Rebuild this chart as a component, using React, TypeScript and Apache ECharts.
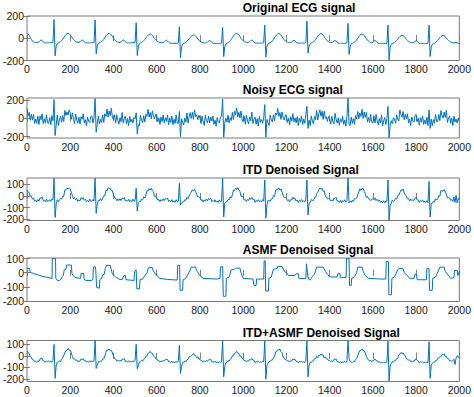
import React, { useEffect, useRef } from "react";
import * as echarts from "echarts";

// ---- data (sample index step 5, rows of 100 samples) ----
const STEP = 5;

const originalRows: number[][] = [
  [42, 38, 25, 8, -10, -25, -32, -36, -38, -40, -38, -32, -22, -15, -20, -32, -40, -42, -41, -42],
  [-40, -41, -40, -40, -36, 168, -158, -70, -48, -42, -38, -32, -22, -10, 5, 20, 32, 40, 45, 40],
  [30, 15, 0, -12, -22, -30, -34, -38, -38, -32, -22, -15, -20, -32, -40, -42, -41, -42, -40, -41],
  [-40, -40, -36, 165, -140, -70, -48, -42, -38, -32, -22, -10, 5, 20, 32, 40, 45, 40, 30, 15],
  [0, -12, -22, -30, -34, -38, -38, -32, -22, -15, -20, -32, -40, -42, -41, -42, -40, -41, -40, -40],
  [-36, 140, -155, -70, -48, -42, -38, -32, -22, -10, 3, 16, 28, 35, 39, 35, 26, 12, -2, -14],
  [-24, -31, -35, -38, -40, -40, -38, -32, -24, -18, -24, -34, -42, -45, -44, -46, -45, -46, -45, -46],
  [-42, 103, -175, -75, -52, -46, -42, -36, -27, -16, -4, 8, 18, 25, 30, 27, 20, 8, -5, -16],
  [-26, -32, -36, -40, -42, -42, -40, -34, -26, -20, -26, -36, -44, -46, -45, -47, -46, -47, -46, -47],
  [-43, 97, -165, -75, -52, -45, -40, -33, -22, -10, 5, 20, 32, 40, 44, 40, 30, 15, 0, -12],
  [-22, -30, -34, -37, -38, -36, -30, -22, -16, -22, -34, -42, -44, -43, -44, -43, -44, -43, -44, -40],
  [118, -170, -72, -50, -44, -40, -34, -24, -12, 3, 18, 30, 38, 42, 38, 28, 13, -2, -14, -24],
  [-31, -35, -38, -40, -38, -32, -24, -18, -24, -34, -42, -44, -43, -44, -43, -44, -43, -44, -40, 155],
  [-133, -70, -50, -44, -40, -34, -24, -12, 3, 18, 30, 38, 42, 38, 28, 13, -2, -14, -24, -31],
  [-35, -38, -38, -34, -26, -20, -26, -36, -44, -46, -45, -46, -45, -46, -45, -45, -41, 133, -145, -72],
  [-52, -46, -42, -36, -26, -14, 0, 15, 27, 35, 39, 35, 25, 10, -4, -16, -26, -33, -38, -40],
  [-35, -27, -21, -27, -37, -45, -48, -47, -48, -47, -48, -47, -48, -44, 118, -194, -80, -55, -48, -44],
  [-38, -30, -20, -8, 5, 15, 23, 27, 24, 15, 3, -10, -20, -28, -34, -38, -40, -40, -36, -28],
  [-22, -28, -38, -46, -48, -47, -48, -47, -48, -47, -48, -44, 118, -164, -78, -55, -48, -44, -38, -30],
  [-20, -8, 5, 15, 23, 27, 24, 15, 3, -10, -20, -28, -34, -38, -40, -42, -40, -38, -42, -46],
  [-46],
];

const noisyRows: number[][] = [
  [107, 28, 65, -22, 45, -20, 43, -56, -8, -55, 22, -67, 23, -15, 50, -57, -5, -52, 39, -47],
  [-55, 9, -70, 30, -26, 205, -188, -75, 37, -77, -18, 23, -42, 30, -35, 85, 32, 70, 35, 90],
  [60, -10, 60, -12, -57, 45, -19, -53, 12, -62, 18, -10, 50, -52, -15, -82, 14, -32, -45, 19],
  [25, -50, 4, 215, -152, -65, 27, -62, -8, -47, 38, -45, 50, 20, 102, 15, 80, 30, 110, 10],
  [-15, 38, -52, 40, -24, -63, 7, -37, 63, -50, 0, 23, -60, -2, -81, 23, -40, -11, -50, 10],
  [-6, 60, -170, -70, -83, 33, -23, -47, 28, -40, 43, 21, 98, 15, 64, -5, 81, 22, -7, 46],
  [41, -41, 5, -68, 15, -35, 37, -52, 6, -33, 36, -69, 3, -45, 26, -71, -10, -56, 35, -51],
  [-57, 75, -200, -5, -42, -71, 3, -41, 58, -51, 16, 63, -2, 65, -10, 92, 20, 38, -15, 34],
  [4, -57, 24, -40, -77, 33, -25, -49, 24, -50, 14, -31, 26, -66, -20, -87, 9, -37, -51, 13],
  [22, 210, -205, -55, 3, -40, 35, -53, 8, -25, 65, -15, 77, 40, 114, 15, 65, 5, 80, -17],
  [-37, 20, -64, 33, -28, -61, 15, -27, 69, -57, -14, 13, -64, -3, -84, 22, -44, -13, -54, 10],
  [150, -206, -12, -50, -79, 35, -19, -39, 38, -27, 58, 35, 108, 22, 63, -12, 68, 8, -19, 36],
  [34, -45, 2, -70, 17, -27, 51, -38, 6, -49, 18, -79, 2, -44, 27, -69, -8, -54, 40, 130],
  [-110, -20, -80, 26, -30, -59, 21, -17, 88, -17, 50, 93, 22, 78, -12, 78, -2, 16, -34, 19],
  [-5, -63, 22, -34, -61, 55, -11, -51, 6, -76, -5, -41, 25, -66, -20, -85, 14, 218, -70, -77],
  [13, -56, -2, -66, 29, -9, 75, -5, 57, 20, 99, 0, 70, 10, 66, -41, 9, -43, 42, -45],
  [-50, 23, -51, 43, -27, -70, -3, -52, 37, -82, -28, 8, -68, -4, 130, -211, -80, -25, -58, 6],
  [-8, -55, 40, -8, -30, 90, 38, 12, 74, -15, 43, -5, 50, -48, -9, -78, 15, -30, -41, 32],
  [43, -38, 2, -76, 7, -42, 27, -67, -18, -62, 12, -79, 90, -110, -8, -80, -13, -54, 42, -35],
  [-35, 42, -25, 85, 33, 2, 69, 10, 88, -45, 0, 27, -54, 2, -80, 23, -40, -8, -52, 4],
  [-30],
];

const itdRows: number[][] = [
  [52, 32, 29, -4, -2, -27, -18, -44, -35, -50, -31, -45, -17, -19, -8, -39, -38, -51, -28, -47],
  [-44, -32, -47, -27, -34, 154, -185, -71, -33, -50, -33, -21, -27, -2, -4, 52, 52, 66, 62, 70],
  [60, 29, 4, -24, -14, -32, -20, -46, -35, -42, -15, -28, -15, -36, -28, -49, -39, -51, -27, -46],
  [-44, -31, -43, 153, -150, -76, -38, -43, -23, -40, -17, 1, 0, 48, 43, 72, 65, 66, 47, 45],
  [10, -18, -18, -42, -26, -40, -24, -40, -19, -25, -13, -45, -35, -46, -29, -49, -38, -50, -27, -45],
  [-40, 66, -130, -57, -46, -48, -28, -33, -7, -18, 8, 47, 43, 63, 50, 67, 46, 38, -5, -4],
  [-14, -37, -31, -50, -32, -42, -24, -40, -21, -28, -17, -47, -37, -49, -32, -53, -43, -55, -32, -51],
  [-46, 110, -80, -62, -50, -52, -32, -37, -12, -24, 1, 19, 33, 53, 41, 59, 40, 14, -8, -6],
  [-16, -38, -32, -52, -34, -44, -26, -42, -23, -30, -19, -49, -39, -50, -33, -54, -44, -56, -33, -52],
  [-47, 153, -182, -62, -50, -51, -30, -34, -7, -18, 10, 51, 47, 68, 55, 72, 50, 41, -3, -2],
  [-12, -36, -30, -49, -30, -38, -16, -30, -13, -32, -27, -55, -39, -47, -32, -50, -42, -52, -31, -45],
  [138, -192, -79, -37, -42, -46, -24, -25, 3, -5, 43, 61, 53, 70, 49, 60, 33, 4, -17, -14],
  [-21, -41, -34, -52, -30, -34, -10, -26, -21, -44, -35, -57, -38, -48, -31, -51, -41, -53, -27, 138],
  [-164, -61, -57, -31, -38, -40, -14, -13, 18, 30, 55, 69, 57, 66, 39, 45, -2, -8, -27, -21],
  [-25, -44, -34, -46, -18, -22, -12, -44, -41, -56, -38, -59, -40, -50, -33, -52, -39, 155, -60, -45],
  [-56, -37, -49, -23, -24, -20, 10, 34, 62, 47, 64, 66, 40, 18, -13, -4, -26, -27, -41, -30],
  [-25, -33, -17, -39, -29, -47, -34, -55, -45, -57, -41, -60, -43, -48, 138, -208, -78, -64, -35, -49],
  [-42, -21, -27, 5, 7, 29, 53, 46, 59, 27, 8, 1, -25, -20, -43, -26, -40, -34, -39, -18],
  [-12, -34, -34, -58, -40, -49, -34, -55, -45, -57, -41, -57, 125, -182, -66, -62, -46, -53, -25, -35],
  [-24, 1, -2, 48, 45, 41, 54, 34, 18, -18, -15, -17, -39, -30, -49, -10, -55, 5, -60, -20],
  [-35],
];

// ASMF: piecewise keypoints [sample, value]
const asmfPoints: number[][] = [
  [0, 30], [12, 30], [15, 2], [30, -5], [50, -15], [70, -25], [85, -30], [100, -35], [116, -40],
  [117, 100], [132, 100], [133, -40], [140, -55], [150, -55], [158, -45], [160, -30], [168, -20], [172, 20], [180, 25], [183, 55], [205, 55], [208, -5], [215, -25], [225, -35], [248, -40], [250, -5], [262, -5], [264, -45], [270, -55], [300, -55],
  [305, -45], [307, 40], [315, 45], [318, 20], [322, -105], [335, -110], [337, -50], [345, -40], [350, -15], [358, -10], [362, 30], [368, 52], [385, 52], [390, 20], [395, -10], [410, -30], [425, -45], [440, -50], [448, -20], [455, -20], [458, -50], [495, -55],
  [498, 10], [505, 20], [508, -115], [520, -115], [523, -50], [535, -45], [545, -20], [555, 0], [562, 36], [580, 36], [585, 10], [600, -20], [615, -40], [650, -48], [695, -52],
  [697, 50], [706, 55], [708, -125], [720, -125], [722, -50], [735, -40], [745, -10], [755, 20], [760, 40], [780, 40], [785, 15], [800, -20], [815, -40], [880, -45],
  [893, -40], [895, 40], [905, 45], [908, -168], [920, -168], [922, -40], [935, -30], [945, 20], [960, 25], [965, 33], [985, 33], [990, 0], [1000, -40], [1045, -45], [1050, -90], [1060, -90], [1062, -45], [1095, -45],
  [1097, 85], [1102, 85], [1104, -130], [1117, -130], [1119, -40], [1130, -30], [1140, 25], [1158, 30], [1160, 45], [1180, 45], [1190, 10], [1200, 0], [1210, -20], [1240, -20], [1245, -7], [1255, -7], [1258, -40], [1290, -42],
  [1293, 64], [1297, 0], [1300, -30], [1305, -50], [1312, -50], [1315, -35], [1330, -10], [1340, 40], [1370, 40], [1380, 10], [1390, -10], [1400, -30], [1435, -30], [1438, -7], [1448, -7], [1450, -35], [1476, -35],
  [1478, 100], [1490, 100], [1492, -90], [1500, -90], [1502, -40], [1515, -30], [1525, 0], [1530, 40], [1550, 40], [1555, 10], [1565, -20], [1580, -40], [1640, -45], [1660, -45],
  [1662, 80], [1672, 80], [1674, -157], [1686, -157], [1688, -40], [1700, -30], [1715, 20], [1720, 29], [1740, 29], [1745, 0], [1760, -20], [1770, -40], [1790, -40], [1795, -10], [1802, -10], [1805, -50], [1848, -50],
  [1850, 29], [1860, 29], [1862, -125], [1875, -125], [1877, -40], [1890, -30], [1905, 20], [1910, 40], [1930, 40], [1935, 10], [1950, -20], [1960, -40], [1975, -35], [1978, 16], [1990, 16], [1993, -20], [2000, 10],
];

const itdAsmfRows: number[][] = [
  [39, 27, 19, -7, -14, -34, -34, -49, -45, -54, -43, -48, -28, -25, -21, -44, -47, -55, -43, -53],
  [-43, -52, -46, -55, -40, 97, -193, -83, -55, -56, -43, -48, -28, -20, 4, 28, 45, 47, 63, 49],
  [47, 24, -6, -27, -26, -39, -36, -51, -45, -46, -27, -31, -26, -42, -41, -54, -48, -55, -42, -52],
  [-43, -51, -42, 131, -108, -79, -50, -55, -45, -46, -27, -26, -1, 30, 51, 48, 58, 47, 48, 24],
  [-3, -23, -28, -45, -38, -47, -40, -45, -29, -29, -25, -48, -46, -52, -42, -54, -47, -54, -42, -51],
  [-39, 97, -110, -85, -52, -51, -40, -45, -29, -24, -2, 0, 22, 25, 38, 23, 19, -1, -4, -25],
  [-27, -42, -41, -53, -44, -49, -40, -45, -31, -32, -29, -50, -48, -55, -45, -58, -52, -59, -47, -57],
  [-45, 90, -150, -90, -56, -55, -44, -49, -34, -30, -9, -8, 2, 5, 19, 5, 3, -15, -7, -27],
  [-29, -43, -42, -55, -46, -51, -42, -47, -33, -34, -31, -52, -50, -56, -46, -59, -53, -60, -48, -58],
  [-46, 128, -180, -90, -56, -54, -42, -46, -29, -24, 0, -1, 21, 25, 38, 23, 18, -3, -2, -23],
  [-25, -41, -40, -52, -42, -45, -32, -35, -23, -36, -39, -58, -50, -53, -45, -55, -51, -56, -46, -51],
  [128, -200, -78, -65, -48, -49, -36, -37, -19, -11, 33, 34, 52, 52, 57, 36, 26, -15, -16, -35],
  [-34, -46, -44, -55, -42, -41, -26, -31, -31, -48, -47, -60, -49, -54, -44, -56, -50, -57, -42, 130],
  [-180, -81, -56, -59, -44, -43, -26, -25, -4, -16, 5, 2, 16, 8, 7, -19, -9, -27, -26, -42],
  [-38, -49, -44, -49, -30, -29, -28, -49, -51, -60, -50, -62, -51, -56, -46, -57, -48, 131, -22, -50],
  [-55, -57, -48, -51, -30, -23, -2, 27, 45, 46, 59, 44, 44, 25, -5, -28, -33, -46, -40, -51],
  [-38, -38, -27, -42, -41, -54, -50, -60, -55, -61, -53, -63, -54, -54, 125, -215, -87, -68, -50, -55],
  [-41, -41, -26, -23, 8, 13, 28, 21, 24, 8, -2, -26, -26, -38, -35, -50, -47, -53, -38, -39],
  [-25, -39, -44, -61, -52, -56, -50, -60, -55, -61, -53, -60, 120, -193, -79, -67, -55, -57, -40, -41],
  [-23, -19, -8, -7, 12, 11, 15, -5, -4, -24, -25, -44, -40, -48, -41, -30, -75, -20, 0, -5],
  [-20],
];

const titles = [
  "Original ECG signal",
  "Noisy ECG signal",
  "ITD Denoised Signal",
  "ASMF Denoised Signal",
  "ITD+ASMF Denoised Signal",
];
const yMins = [-200, -215, -212, -205, -220];
const yMaxs = [200, 222, 155, 105, 131];
const yTickValues = [
  [-200, 0, 200],
  [-200, 0, 200],
  [-200, -100, 0, 100],
  [-200, -100, 0, 100],
  [-200, -100, 0, 100],
];
const xTickValues = [0, 200, 400, 600, 800, 1000, 1200, 1400, 1600, 1800, 2000];

// ---- layout ----
const W = 474;
const H = 397;
const PLOT_LEFT = 24.5;
const PLOT_RIGHT = 461;
const gridTops = [16, 98, 178, 258, 340.5];
const gridHeights = [44.5, 40, 42.5, 43.5, 41];
const FRAME = "#7a7a7a";
const TEXT = "#1a1a1a";
const LINE = "#0072BD";
const FONT = "'Liberation Sans', Arial, Helvetica, sans-serif";

function rowsToSeries(rows: number[][]): number[][] {
  return rows.flat().map((v, i) => [i * STEP, v]);
}

export default function App() {
  const ref = useRef<HTMLDivElement>(null);
  useEffect(() => {
    if (!ref.current) return;
    const chart = echarts.init(ref.current, undefined, { renderer: "svg" });
    const seriesData = [
      rowsToSeries(originalRows),
      rowsToSeries(noisyRows),
      rowsToSeries(itdRows),
      asmfPoints,
      rowsToSeries(itdAsmfRows),
    ];
    const grid: any[] = [];
    const xAxis: any[] = [];
    const yAxis: any[] = [];
    const series: any[] = [];
    const graphic: any[] = [];
    for (let k = 0; k < 5; k++) {
      grid.push({
        left: PLOT_LEFT,
        top: gridTops[k],
        width: PLOT_RIGHT - PLOT_LEFT,
        height: gridHeights[k],
        show: true,
        borderColor: FRAME,
        borderWidth: 1,
        containLabel: false,
      });
      const xBase = {
        type: "value",
        gridIndex: k,
        min: 0,
        max: 2000,
        splitLine: { show: false },
        axisLine: { show: false },
        axisTick: {
          show: true,
          inside: true,
          length: 3,
          lineStyle: { color: FRAME, width: 1 },
          customValues: xTickValues,
        },
      };
      xAxis.push({
        ...xBase,
        position: "bottom",
        axisLabel: {
          show: true,
          color: TEXT,
          fontSize: 10.5,
          fontFamily: FONT,
          margin: 3,
          customValues: xTickValues,
          formatter: (v: number) => String(v),
        },
      });
      xAxis.push({
        ...xBase,
        position: "top",
        axisLabel: { show: false },
      });
      const yBase = {
        type: "value",
        gridIndex: k,
        min: yMins[k],
        max: yMaxs[k],
        splitLine: { show: false },
        axisLine: { show: false },
        axisTick: {
          show: true,
          inside: true,
          length: 3,
          lineStyle: { color: FRAME, width: 1 },
          customValues: yTickValues[k],
        },
      };
      yAxis.push({
        ...yBase,
        position: "left",
        axisLabel: {
          show: true,
          color: TEXT,
          fontSize: 10.5,
          fontFamily: FONT,
          margin: 3,
          customValues: yTickValues[k],
          formatter: (v: number) => String(v),
        },
      });
      yAxis.push({
        ...yBase,
        position: "right",
        axisLabel: { show: false },
      });
      series.push({
        type: "line",
        xAxisIndex: 2 * k,
        yAxisIndex: 2 * k,
        data: seriesData[k],
        showSymbol: false,
        symbol: "none",
        clip: true,
        lineStyle: { color: LINE, width: 1 },
      });
      graphic.push({
        type: "text",
        left: (PLOT_LEFT + PLOT_RIGHT) / 2,
        top: gridTops[k] - 14,
        style: {
          text: titles[k],
          font: `bold 12px ${FONT}`,
          fill: "#000",
          textAlign: "center",
        },
      });
    }
    chart.setOption({
      animation: false,
      backgroundColor: "#ffffff",
      grid,
      xAxis,
      yAxis,
      series,
      graphic,
    });
    return () => chart.dispose();
  }, []);
  return (
    <div
      ref={ref}
      style={{ position: "fixed", left: 0, top: 0, width: W, height: H }}
    />
  );
}
